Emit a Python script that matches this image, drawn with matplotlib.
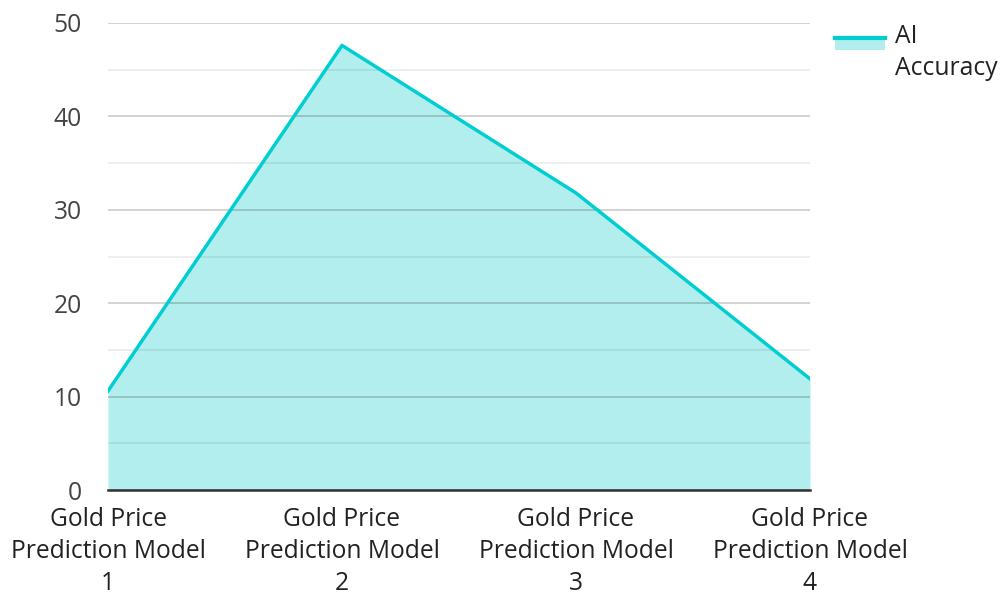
import matplotlib
matplotlib.use("Agg")
import matplotlib.pyplot as plt
from matplotlib.patches import Rectangle
from matplotlib.lines import Line2D
from matplotlib.legend_handler import HandlerBase

categories = ["Gold Price\nPrediction Model\n1", "Gold Price\nPrediction Model\n2",
              "Gold Price\nPrediction Model\n3", "Gold Price\nPrediction Model\n4"]
accuracy = [10.6, 47.6, 31.8, 11.9]
series_name = "AI\nAccuracy"
yticks = [0, 10, 20, 30, 40, 50]

plt.rcParams['font.family'] = ['Open Sans', 'DejaVu Sans']
FS = 17.7
LS = 1.37

fig = plt.figure(figsize=(10, 5.94), dpi=100)
ax = fig.add_axes([0.108, 1 - 490/594, 0.702, (490-23)/594])

x = list(range(len(categories)))
color = "#00CED1"
fill = "#B2EEEE"
ax.fill_between(x, accuracy, 0, color=fill, zorder=1, linewidth=0)
ax.plot(x, accuracy, color=color, lw=2.5, zorder=3)

ax.set_xlim(0, 3)
ax.set_ylim(0, 50)
ax.set_yticks(yticks)
ax.set_yticks([5, 15, 25, 35, 45], minor=True)
ax.set_xticks(x)
ax.set_xticklabels(categories, fontsize=FS, color="#222222", linespacing=LS)
ax.tick_params(axis='y', labelsize=FS, labelcolor="#444444", length=0, pad=19)
ax.tick_params(axis='y', which='minor', length=0)
ax.tick_params(axis='x', length=0, pad=12)
ax.grid(axis='y', which='major', color="#000000", alpha=0.2, lw=1.2, zorder=2)
ax.grid(axis='y', which='minor', color="#000000", alpha=0.08, lw=1.2, zorder=2)
for s in ['top', 'right', 'left']:
    ax.spines[s].set_visible(False)
ax.spines['bottom'].set_color("#333333")
ax.spines['bottom'].set_linewidth(1.8)
ax.spines['bottom'].set_zorder(4)
ax.set_axisbelow(False)

class AreaHandler(HandlerBase):
    def create_artists(self, legend, orig_handle, xdescent, ydescent, width, height, fontsize, trans):
        ph = 10.0
        off = 7.5
        cy = height / 2 - ydescent + off
        r = Rectangle((-xdescent, cy - ph / 2), width, ph, facecolor=fill, edgecolor='none', transform=trans)
        l = Line2D([-xdescent, -xdescent + width], [cy + ph / 2 - 1, cy + ph / 2 - 1], color=color, lw=3, transform=trans)
        return [r, l]

leg = ax.legend([object()], [series_name], handler_map={object: AreaHandler()},
                loc='upper left', bbox_to_anchor=(835/1000, 1 - 24/594), bbox_transform=fig.transFigure,
                frameon=False, fontsize=FS, handlelength=2.03, handleheight=0.7,
                handletextpad=0.41, borderpad=0, borderaxespad=0, labelcolor="#222222")
for t in leg.get_texts():
    t.set_linespacing(1.39)

fig.savefig("out.png", dpi=100)
